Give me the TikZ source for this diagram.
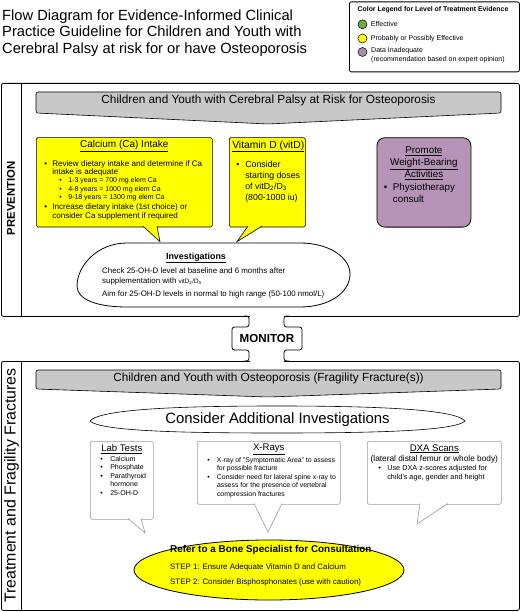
\documentclass[tikz,border=0pt]{standalone}
\usepackage{fontspec}
\setmainfont{Liberation Sans}
\usetikzlibrary{positioning,shapes.geometric}
\definecolor{evidyellow}{HTML}{FFFF00}
\definecolor{evidgreen}{HTML}{6AAF3D}
\definecolor{evidpurple}{HTML}{A98BAE}
\definecolor{boxpurple}{HTML}{B594B8}
\definecolor{bannergray}{HTML}{C8C8C8}
\definecolor{boxgray}{HTML}{9A9A9A}

\newcommand{\fsz}[2]{\fontsize{#1}{#2}\selectfont}
\newcommand{\bulline}[3]{\par\noindent\hspace*{#1}\makebox[#2][l]{\textbullet}\mbox{#3}}
\newcommand{\contline}[2]{\par\noindent\hspace*{#1}\mbox{#2}}

\begin{document}
\begin{tikzpicture}[x=1pt,y=-1pt,
  frame/.style={draw,line width=0.8pt,rounded corners=2pt,inner sep=0,anchor=north west},
  banner/.style={draw,fill=bannergray,line width=0.6pt,rounded corners=2pt},
  yellowbox/.style={draw,fill=evidyellow,line width=0.6pt,rounded corners=1.5pt,inner sep=3pt,anchor=north west},
  graybox/.style={draw=boxgray,fill=white,line width=0.6pt,rounded corners=2pt,inner sep=3pt,anchor=north west},
  yellowtip/.style={draw,fill=evidyellow,line width=0.6pt},
  graytip/.style={draw=boxgray,fill=white,line width=0.6pt},
  dot/.style={circle,draw,line width=0.5pt,minimum size=9pt,inner sep=0},
  legendtext/.style={font=\fsz{7}{9},inner sep=0}]
\useasboundingbox (0,0) rectangle (520,612);

% title and legend
\node[anchor=north west,align=left,inner sep=0,font=\fsz{14.7}{16.8}] (title) at (2,9.2) {Flow Diagram for Evidence-Informed Clinical\\Practice Guideline for Children and Youth with\\Cerebral Palsy at risk for or have Osteoporosis};
\node[draw,rounded corners=2pt,line width=0.8pt,minimum width=170pt,minimum height=70pt,anchor=north west] (legend) at (349,1.5) {};
\node[anchor=base,font=\bfseries\fsz{6.9}{8}] (legendtitle) at (433,11.4) {Color Legend for Level of Treatment Evidence};
\node[dot,fill=evidgreen] (dotgreen) at (362.5,24.3) {};
\node[dot,fill=evidyellow] (dotyellow) at (362.5,38.5) {};
\node[dot,fill=evidpurple] (dotpurple) at (362.5,52) {};
\node[legendtext,right=3.5pt of dotgreen] (labgreen) {Effective};
\node[legendtext,right=3.5pt of dotyellow] (labyellow) {Probably or Possibly Effective};
\node[legendtext,anchor=north west,align=left] (labpurple) at (371,46.8) {Data Inadequate\\(recommendation based on expert opinion)};

% prevention
\node[frame,minimum width=518pt,minimum height=233pt] (prevention) at (1,83) {};
\draw[line width=0.8pt] ([xshift=20pt]prevention.north west) -- ([xshift=20pt]prevention.south west);
\node[rotate=90,font=\bfseries\fsz{11.3}{13}] (prevlabel) at (11,198.5) {PREVENTION};
\draw[banner] (36,92) -- (501,92) -- (501,113) -- (268,124) -- (36,113) -- cycle;
\node[font=\fsz{11.8}{14}] (riskbanner) at (268.5,100.7) {Children and Youth with Cerebral Palsy at Risk for Osteoporosis};

\node[yellowbox] (calcium) at (36,137.3) {\begin{minipage}[t][83.4pt][t]{170pt}
{\centering\fsz{10}{11}\underline{Calcium (Ca) Intake}\par}
\vspace{7.4pt}\fsz{8.1}{9.3}
\bulline{5pt}{8pt}{Review dietary intake and determine if Ca}
\contline{13pt}{intake is adequate}
{\fsz{7}{8.4}%
\bulline{20pt}{9pt}{1-3 years = 700 mg elem Ca}
\bulline{20pt}{9pt}{4-8 years = 1000 mg elem Ca}
\bulline{20pt}{9pt}{9-18 years = 1300 mg elem Ca}\par}
\bulline{5pt}{8pt}{Increase dietary intake (1st choice) or}
\contline{13pt}{consider Ca supplement if required}
\end{minipage}};
\filldraw[yellowtip] (143,226.1) -- (160,241.7) -- (157,226.1);

\node[yellowbox] (vitd) at (229,137.3) {\begin{minipage}[t][83.4pt][t]{70pt}
{\centering\fsz{10.3}{11}\underline{Vitamin D (vitD)}\par}
\vspace{8.2pt}\fsz{8.8}{11.1}
\bulline{4pt}{9pt}{Consider}
\contline{13pt}{starting doses}
\contline{13pt}{of vitD\textsubscript{2}/D\textsubscript{3}}
\contline{13pt}{(800-1000 iu)}
\end{minipage}};
\filldraw[yellowtip] (248,226.1) -- (237,241.7) -- (262,226.1);

\node[draw,fill=boxpurple,line width=0.8pt,rounded corners=8pt,inner sep=3pt,anchor=north west] (weight) at (376.5,137.3) {\begin{minipage}[t][83.4pt][t]{88pt}
\vspace*{5.9pt}
{\centering\fsz{9.8}{12}\underline{Promote}\\\underline{Weight-Bearing}\\\underline{Activities}\par}
\vspace{1pt}\fsz{9.8}{12}
\bulline{4pt}{9pt}{Physiotherapy}
\contline{13pt}{consult}
\end{minipage}};

% investigations
\draw[line width=0.8pt,fill=white] (127,243) -- (300,243) .. controls (330,243) and (350,258) .. (350,274) .. controls (350,292) and (330,307) .. (300,307) -- (127,307) .. controls (98,307) and (77,300) .. (77,286) .. controls (77,266) and (97,243) .. (127,243) -- cycle;
\node[anchor=base,font=\bfseries\fsz{8.9}{10}] (investtitle) at (196,259) {\underline{Investigations}};
\node[anchor=north west,align=left,inner sep=0,font=\fsz{7.9}{9.7}] (investtext) at (102,268) {Check 25-OH-D level at baseline and 6 months after\\supplementation with {\fsz{6.3}{9.7}vitD\textsubscript{2}/D\textsubscript{3}}\\[2.9pt]Aim for 25-OH-D levels in normal to high range (50-100 nmol/L)};

% treatment
\node[frame,minimum width=518pt,minimum height=249pt] (treatment) at (1,361) {};
\draw[line width=0.8pt] ([xshift=20pt]treatment.north west) -- ([xshift=20pt]treatment.south west);
\node[rotate=90,font=\fsz{15.9}{18}] (treatlabel) at (11.5,485.5) {Treatment and Fragility Fractures};

% monitor
\fill[white] (249.5,314) rectangle (283.5,363);
\draw[line width=0.8pt,rounded corners=2.5pt] (244,316) -- (249,316) -- (249,327) -- (232,327) -- (232,350) -- (249,350) -- (249,361) -- (244,361);
\draw[line width=0.8pt,rounded corners=2.5pt] (289,316) -- (284,316) -- (284,327) -- (302,327) -- (302,350) -- (284,350) -- (284,361) -- (289,361);
\node[font=\bfseries\fsz{11.6}{13}] (monitor) at (267,338.5) {MONITOR};

\draw[banner] (36,370) -- (501,370) -- (501,389) -- (268,397) -- (36,389) -- cycle;
\node[font=\fsz{11.8}{14}] (fracbanner) at (268.5,378.5) {Children and Youth with Osteoporosis (Fragility Fracture(s))};

\draw[line width=0.6pt] (90,421) .. controls (100,409) and (180,406) .. (277,406) .. controls (374,406) and (455,409) .. (465,421) .. controls (455,431) and (374,433) .. (277,433) .. controls (180,433) and (100,431) .. (90,421) -- cycle;
\node[font=\fsz{14.9}{17}] (additional) at (277.5,420) {Consider Additional Investigations};

\node[graybox] (labtests) at (90,441) {\begin{minipage}[t][72pt][t]{57pt}
{\centering\fsz{9.6}{11}\underline{Lab Tests}\par}
\vspace{1.2pt}\fsz{7}{8.6}
\bulline{7pt}{10pt}{Calcium}
\bulline{7pt}{10pt}{Phosphate}
\bulline{7pt}{10pt}{Parathyroid}
\contline{17pt}{hormone}
\bulline{7pt}{10pt}{25-OH-D}
\end{minipage}};
\filldraw[graytip] (128,518.4) -- (145,533) -- (141,518.4);

\node[graybox] (xrays) at (197,441) {\begin{minipage}[t][57pt][t]{137pt}
{\centering\fsz{9.6}{11}\underline{X-Rays}\par}
\vspace{1.2pt}\fsz{6.9}{8.6}
\bulline{7pt}{9.7pt}{X-ray of "Symptomatic Area" to assess}
\contline{16.7pt}{for possible fracture}
\bulline{7pt}{9.7pt}{Consider need for lateral spine x-ray to}
\contline{16.7pt}{assess for the presence of vertebral}
\contline{16.7pt}{compression fractures}
\end{minipage}};
\filldraw[graytip] (254,503.4) -- (268,532) -- (282,503.4);

\node[graybox] (dxa) at (367,441) {\begin{minipage}[t][57pt][t]{128pt}
{\centering\fsz{9.6}{11}\underline{DXA Scans}\par}
\vspace{0.5pt}
{\centering\fsz{8.3}{10}(lateral distal femur or whole body)\par}
\vspace{0pt}\fsz{7.3}{9}
\bulline{8pt}{9pt}{Use DXA z-scores adjusted for}
\contline{17pt}{child's age, gender and height}
\end{minipage}};
\filldraw[graytip] (420,503.4) -- (417,524) -- (448,503.4);

% referral
\node[ellipse,draw,fill=evidyellow,line width=0.8pt,minimum width=270pt,minimum height=60pt,inner sep=0] (bone) at (269,570) {};
\node[anchor=north west,align=left,inner sep=0,font=\fsz{7.9}{9.5}] (bonetext) at (170,545.6) {{\bfseries\fsz{9.9}{11}Refer to a Bone Specialist for Consultation}\\[7.2pt]STEP 1: Ensure Adequate Vitamin D and Calcium\\[5.8pt]STEP 2: Consider Bisphosphonates (use with caution)};
\end{tikzpicture}
\end{document}
